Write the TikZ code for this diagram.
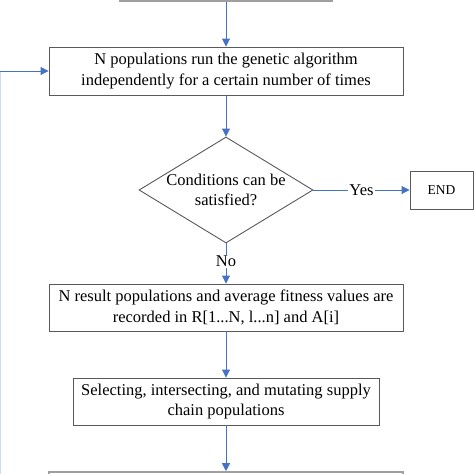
\documentclass[tikz,border=0pt]{standalone}
\usepackage{fontspec}
\setmainfont{Liberation Serif}
\usetikzlibrary{shapes.geometric,arrows.meta}
\definecolor{flowblue}{RGB}{68,114,196}
\definecolor{boxgray}{RGB}{89,89,89}
\begin{document}
\begin{tikzpicture}[x=1pt,y=-1pt,
    box/.style={rectangle, draw=boxgray, line width=0.9pt, align=center, inner sep=0pt,
        font=\fontsize{16.5}{20.5}\selectfont},
    cut/.style={rectangle, draw=gray!75, line width=1.6pt, inner sep=0pt},
    flow/.style={draw=flowblue, line width=0.9pt, -{Triangle[length=8pt,width=8pt]}},
    tag/.style={fill=white, inner sep=1pt, font=\fontsize{16.5}{20}\selectfont}
]
    \useasboundingbox (0,0) rectangle (474,474);

    % Boxes cut off at the top and bottom of the figure
    \node[cut, minimum width=212, minimum height=20] (prev) at (226,-9) {};
    \node[cut, minimum width=354, minimum height=20] (next) at (226,482) {};

    % Main steps of the flow
    \node[box, minimum width=354, minimum height=48] (run) at (226,71)
        {N populations run the genetic algorithm\\independently for a certain number of times};
    \node[diamond, draw=boxgray, line width=0.9pt, inner sep=0pt,
        minimum width=174, minimum height=106] (cond) at (226,190) {};
    \node[align=center, font=\fontsize{16.5}{20.5}\selectfont] (condtxt) at (cond.center)
        {Conditions can be\\satisfied?};
    \node[box, minimum width=63, minimum height=38, font=\fontsize{13.5}{15}\selectfont] (end) at (441.5,190) {END};
    \node[box, minimum width=354, minimum height=47] (rec) at (226,307.5)
        {N result populations and average fitness values are\\recorded in R[1...N, l...n] and A[i]};
    \node[box, minimum width=306, minimum height=47] (sel) at (226,401.5)
        {Selecting, intersecting, and mutating supply\\chain populations};

    % Connectors
    \draw[flow] (prev.south) -- (run.north);
    \draw[flow] (run.south) -- (cond.north);
    \draw[flow] (cond.east) -- node[tag] (yes) {Yes} (end.west);
    \draw[flow] (cond.south) -- node[tag, pos=0.45] (no) {No} (rec.north);
    \draw[flow] (rec.south) -- (sel.north);
    \draw[flow] (sel.south) -- (next.north);

    % Loop coming back from the left edge
    \coordinate (loop) at (0,71);
    \coordinate (loopend) at (0,480);
    \draw[draw=flowblue!25, line width=0.9pt] (loopend) -- (loop);
    \draw[flow] (loop) -- (run.west);

\end{tikzpicture}
\end{document}
